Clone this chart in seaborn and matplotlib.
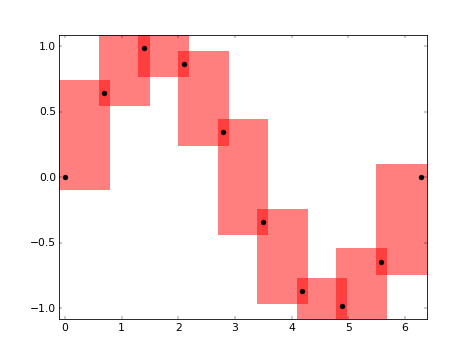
import matplotlib
matplotlib.use('Agg')
import matplotlib.pyplot as plt
import pandas as pd
import seaborn as sns
from matplotlib.patches import Rectangle
from matplotlib.collections import PatchCollection

# points
x = [0.0, 0.698, 1.396, 2.094, 2.793, 3.491, 4.189, 4.887, 5.585, 6.283]
y = [0.0, 0.643, 0.985, 0.866, 0.342, -0.342, -0.866, -0.985, -0.643, 0.0]

# boxes (data coords)
box_left = [-0.100, 0.598, 1.296, 1.994, 2.693, 3.391, 4.089, 4.787, 5.485]
box_right = [0.798, 1.496, 2.194, 2.893, 3.591, 4.289, 4.987, 5.685, 6.383]
box_bottom = [-0.100, 0.543, 0.766, 0.242, -0.442, -0.966, -1.085, -1.085, -0.743]
box_top = [0.743, 1.085, 1.085, 0.966, 0.442, -0.242, -0.766, -0.543, 0.100]

plt.style.use('classic')
fig = plt.figure(figsize=(8, 6), dpi=59.25)
ax = fig.add_subplot(1, 1, 1)

boxes = []
for l, r, b, t in zip(box_left, box_right, box_bottom, box_top):
    boxes.append(Rectangle((l, b), r - l, t - b))
pc = PatchCollection(boxes, facecolor='r', alpha=0.5, edgecolor='None')
ax.add_collection(pc)

df = pd.DataFrame({'x': x, 'y': y})
sns.scatterplot(data=df, x='x', y='y', color='k', s=36, edgecolor='k', linewidth=0.5, ax=ax, zorder=3)
ax.set_xlabel('')
ax.set_ylabel('')
ax.set_xlim(min(box_left), max(box_right))
ax.set_ylim(min(box_bottom), max(box_top))
ax.tick_params(labelsize=13)

fig.savefig('out.png', dpi=59.25)
